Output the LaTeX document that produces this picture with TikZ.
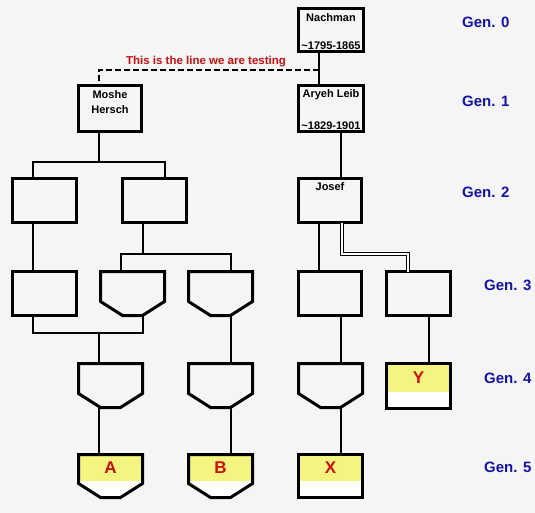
\documentclass[tikz,border=0pt]{standalone}
\usepackage{fontspec}
\setmainfont{Liberation Sans}
\usetikzlibrary{calc}
\definecolor{bg}{RGB}{245,245,245}
\definecolor{genblue}{RGB}{20,20,170}
\definecolor{redtxt}{RGB}{205,15,15}
\definecolor{hl}{RGB}{244,244,128}
\begin{document}
\begin{tikzpicture}[x=1pt,y=-1pt,line join=miter,
  box/.style={draw, line width=3pt, minimum width=64pt, minimum height=44pt, inner sep=0pt, outer sep=0pt},
  ghost/.style={minimum width=64pt, minimum height=44pt, inner sep=0pt, outer sep=0pt},
  hlbox/.style={box, fill=white, path picture={\fill[hl] (path picture bounding box.north west) rectangle ([yshift=17pt]path picture bounding box.south east);}},
  conn/.style={line width=2pt},
  dbl/.style={double=white, double distance=1.4pt, line width=0.9pt},
  dashline/.style={line width=2pt, dash pattern=on 6pt off 3pt},
  lbl/.style={font=\bfseries\fontsize{11}{15}\selectfont, align=center, inner sep=0pt, outer sep=0pt},
  letter/.style={font=\bfseries\fontsize{17}{20}\selectfont, text=redtxt, inner sep=0pt, outer sep=0pt},
  note/.style={font=\bfseries\fontsize{11.5}{14}\selectfont, text=redtxt, inner sep=0pt},
  gen/.style={font=\bfseries\fontsize{15}{18}\selectfont, text=genblue, anchor=west, inner sep=0pt},
  chamfer/.style={line width=3pt}
]
\fill[bg] (0,0) rectangle (535,513);
\useasboundingbox (0,0) rectangle (535,513);

% Gen 0 / Gen 1
\node[box, minimum width=65pt, minimum height=43pt,
  label={[lbl,anchor=north,yshift=-5pt]north:{Nachman\\[13.5pt]\textasciitilde1795-1865}}] (nach) at (331,30) {};
\node[box, minimum width=63pt, minimum height=46pt,
  label={[lbl,anchor=north,yshift=-5pt]north:{Moshe\\Hersch}}] (moshe) at (110,108.5) {};
\node[box, minimum width=65pt, minimum height=46pt,
  label={[lbl,anchor=north,yshift=-4.3pt]north:{Aryeh Leib\\[16.5pt]\textasciitilde1829-1901}}] (aryeh) at (331,108.5) {};

% Gen 2
\node[box] (g2a) at (44.5,200.5) {};
\node[box] (g2b) at (154.5,200.5) {};
\node[box, minimum width=63pt,
  label={[lbl,anchor=north,yshift=-3.7pt]north:Josef}] (josef) at (330,200.5) {};

% Gen 3
\node[box] (g3a) at (44.5,293.5) {};
\node[ghost] (g3b) at (132.5,293.5) {};
\node[ghost] (g3c) at (220.5,293.5) {};
\node[box, minimum width=63pt] (g3d) at (330,293.5) {};
\node[box] (g3e) at (418.5,293.5) {};

% Gen 4
\node[ghost] (g4a) at (110.5,385.5) {};
\node[ghost] (g4b) at (220.5,385.5) {};
\node[ghost] (g4c) at (330.5,385.5) {};
\node[hlbox, minimum height=45pt, label={[letter,yshift=8pt]center:Y}] (ny) at (418.5,386) {};

% Gen 5
\node[ghost, minimum height=43pt] (na) at (110.5,476) {};
\node[ghost, minimum height=43pt] (nb) at (220.5,476) {};
\node[hlbox, minimum height=43pt, label={[letter,yshift=8pt]center:X}] (nx) at (330.5,476) {};

% yellow chamfered boxes: fill
\foreach \n in {na,nb}{
  \fill[white] (\n.north west) -- (\n.north east) -- ([yshift=14pt]\n.south east)
    -- ([xshift=-22pt]\n.south east) -- ([xshift=22pt]\n.south west)
    -- ([yshift=14pt]\n.south west) -- cycle;
  \fill[hl] (\n.north west) rectangle ([yshift=17pt]\n.south east);
}
% chamfered outlines
\foreach \n in {g3b,g3c,g4a,g4b,g4c,na,nb}{
  \draw[chamfer] (\n.north west) -- (\n.north east) -- ([yshift=14pt]\n.south east)
    -- ([xshift=-22pt]\n.south east) -- ([xshift=22pt]\n.south west)
    -- ([yshift=14pt]\n.south west) -- cycle;
}
\node[letter] (la) at ([yshift=8pt]na.center) {A};
\node[letter] (lb) at ([yshift=8pt]nb.center) {B};

% note
\node[note] (note) at (206,62) {This is the line we are testing};

% connectors
\coordinate (j0) at (319,70);
\coordinate (j1) at (99,162);
\coordinate (j2) at (143,254);
\coordinate (j3) at (408,254);
\coordinate (j4) at (99,333);

\draw[conn] ([xshift=-12pt]nach.south) -- ([xshift=-12pt]aryeh.north);
\draw[dashline] (j0) -| ([xshift=-11pt]moshe.north);
\draw[conn] ([xshift=-11pt]moshe.south) -- (j1);
\draw[conn] ([xshift=-11.5pt]g2a.north) |- (j1) -| ([xshift=10.5pt]g2b.north);
\draw[conn] ([xshift=10pt]aryeh.south) -- ([xshift=10pt]aryeh.south |- josef.north);
\draw[conn] ([xshift=-11.5pt]g2a.south) -- ([xshift=-11.5pt]g3a.north);
\draw[conn] ([xshift=-11.5pt]g2b.south) -- (j2);
\draw[conn] ([xshift=-11.5pt]g3b.north) |- (j2) -| ([xshift=10.5pt]g3c.north);
\draw[conn] ([xshift=-11pt]josef.south) -- ([xshift=-11pt]g3d.north);
\draw[dbl] ([xshift=12pt]josef.south) |- (j3) -- ([xshift=-10.5pt]g3e.north);
\draw[conn] ([xshift=-11.5pt]g3a.south) |- (j4) -| ([xshift=10.5pt]g3b.south);
\draw[conn] (j4) -- ([xshift=-11.5pt]g4a.north);
\draw[conn] ([xshift=10.5pt]g3c.south) -- ([xshift=10.5pt]g4b.north);
\draw[conn] ([xshift=11pt]g3d.south) -- ([xshift=11pt]g3d.south |- g4c.north);
\draw[conn] ([xshift=10.5pt]g3e.south) -- ([xshift=10.5pt]ny.north);
\draw[conn] ([xshift=-11.5pt]g4a.south) -- ([xshift=-11.5pt]na.north);
\draw[conn] ([xshift=10.5pt]g4b.south) -- ([xshift=10.5pt]nb.north);
\draw[conn] ([xshift=10.5pt]g4c.south) -- ([xshift=10.5pt]nx.north);

% generation labels
\node[gen] (gen0) at (462,22) {Gen. 0};
\node[gen] (gen1) at (462,101) {Gen. 1};
\node[gen] (gen2) at (462,192) {Gen. 2};
\node[gen] (gen3) at (484,285) {Gen. 3};
\node[gen] (gen4) at (484,378) {Gen. 4};
\node[gen] (gen5) at (484,467) {Gen. 5};
\end{tikzpicture}
\end{document}
